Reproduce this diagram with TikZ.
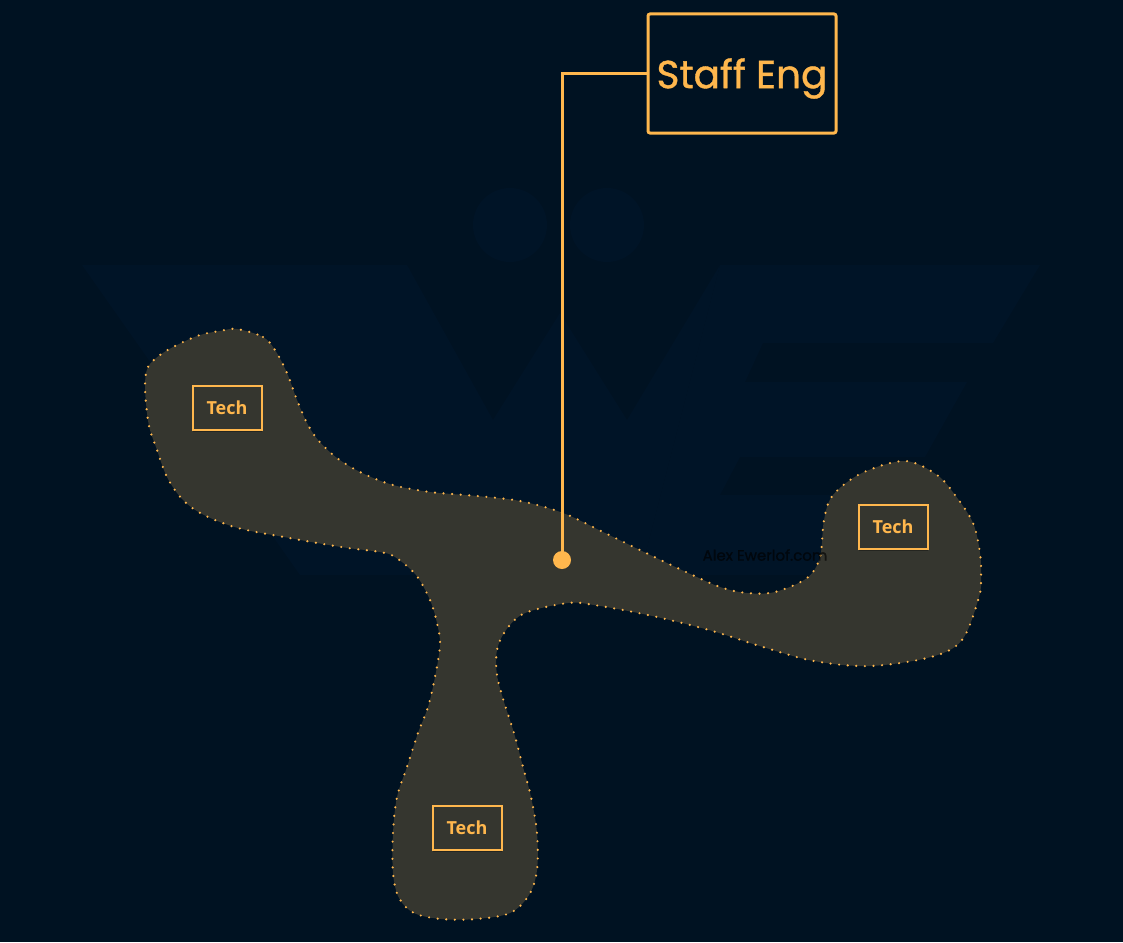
\documentclass[tikz,border=0pt]{standalone}
\usepackage{fontspec}
\setmainfont{Open Sans}
\newfontfamily\titlefont[FakeBold=1]{Poppins}
\definecolor{bgnavy}{RGB}{0, 18, 34}
\definecolor{marknavy}{RGB}{0, 20, 39}
\definecolor{blobgrey}{RGB}{53, 54, 47}
\definecolor{amber1}{RGB}{255, 183, 77}
\usetikzlibrary{positioning, shadows}

\begin{document}
\begin{tikzpicture}[x=1pt, y=-1pt,
  techbox/.style={draw=amber1, fill=blobgrey, line width=2pt, text=amber1, inner sep=0pt,
    minimum width=69pt, minimum height=44pt, font=\fontsize{18}{21}\selectfont\bfseries,
    drop shadow={shadow xshift=0pt, shadow yshift=-1.5pt, opacity=0.3, fill=black}},
  staffbox/.style={draw=amber1, fill=bgnavy, line width=3pt, rounded corners=2pt, text=amber1,
    inner sep=0pt, minimum width=188pt, minimum height=119pt, font=\titlefont\fontsize{39}{44}\selectfont},
  blobline/.style={draw=amber1, line width=2.4pt, line cap=round, dash pattern=on 0pt off 8.6pt}]

  % Background
  \useasboundingbox (0,0) rectangle (1123,942);
  \fill[bgnavy] (0,0) rectangle (1123,942);

  % Faint logo watermark
  \fill[marknavy] (510,225) circle[radius=37pt];
  \fill[marknavy] (607,225) circle[radius=37pt];
  \fill[marknavy] (82,265) -- (407,265) -- (493,420) -- (560,313) -- (627,420) -- (720,265)
    -- (640,575) -- (560,575) -- (530,520) -- (490,575) -- (300,575) -- cycle;
  \fill[marknavy] (720,265) -- (1040,265) -- (993,343) -- (763,343) -- (745,382) -- (967,382)
    -- (925,457) -- (740,457) -- (720,495) -- (900,495) -- (860,575) -- (640,575) -- cycle;

  % Blob
  \draw[blobline, fill=blobgrey] plot[smooth cycle, tension=0.55] coordinates {
    (237,329) (263,337) (275,350) (287,373) (297,400) (307,423) (318,440) (337,458)
    (362,473) (393,485) (430,492) (477,496) (520,501) (563,513) (605,533) (644,552)
    (686,572) (720,587) (747,593) (775,592) (807,578) (820,557) (824,520) (833,495)
    (862,473) (905,461) (937,475) (955,495) (973,523) (980,553) (981,577) (979,597)
    (962,640) (931,657) (870,666) (814,661) (763,647) (709,630) (648,615) (594,605)
    (568,603) (525,613) (506,630) (497,650) (497,675) (504,702) (514,733) (523,767)
    (531,797) (537,833) (537,870) (529,895) (510,913) (476,919) (441,919) (414,913)
    (399,898) (393,873) (393,833) (397,797) (407,767) (418,733) (428,707) (435,677)
    (440,645) (437,623) (430,600) (416,575) (395,557) (380,552) (341,547) (284,537)
    (238,528) (204,515) (183,500) (167,477) (156,447) (150,430) (147,413) (145,385)
    (148,367) (160,355) (177,345) (200,335) (220,331)};

  % Watermark text
  \node[text=black, opacity=0.6, font=\titlefont\fontsize{15}{18}\selectfont] (credit) at (765,555) {Alex Ewerlof.com};

  % Tech boxes
  \node[techbox] (techleft) at (227,408) {Tech};
  \node[techbox] (techright) at (893,527) {Tech};
  \node[techbox] (techbottom) at (467,828) {Tech};

  % Staff Eng and connector
  \node[staffbox] (staff) at (742,73.5) {\raisebox{-5pt}[\height][\depth]{Staff Eng}};
  \node[circle, fill=amber1, minimum size=18pt, inner sep=0pt] (hub) at (562,560) {};
  \draw[amber1, line width=3pt] (staff.west) -| (hub.center);
\end{tikzpicture}
\end{document}
